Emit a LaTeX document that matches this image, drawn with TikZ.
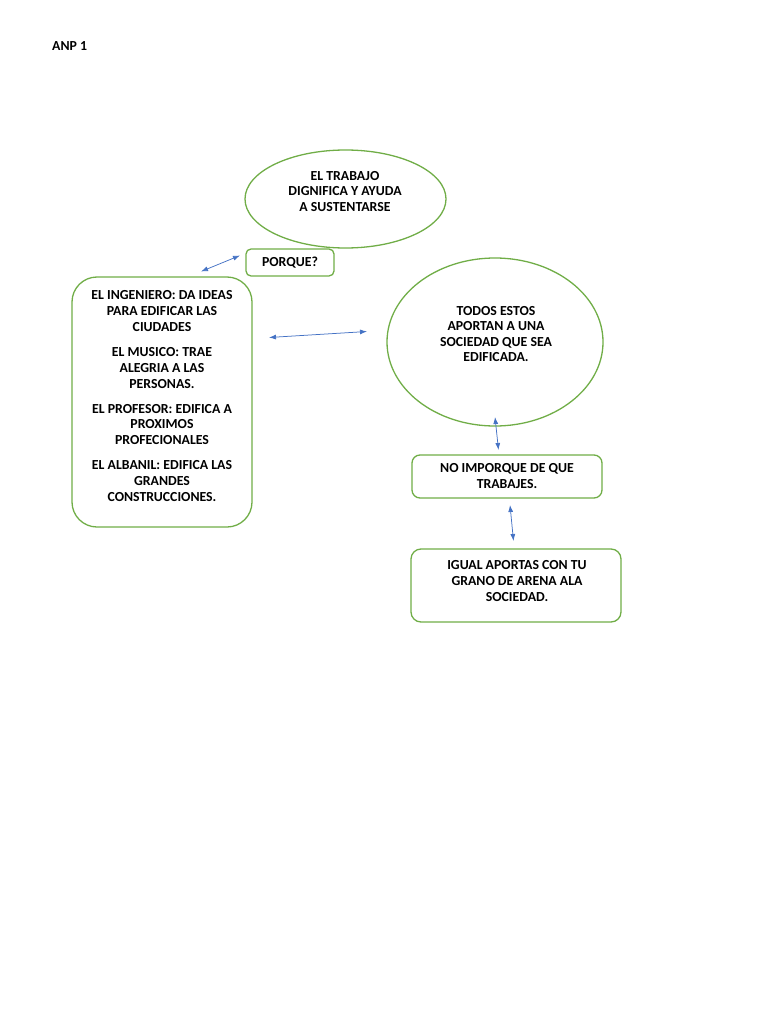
\documentclass[tikz,border=0pt]{standalone}
\usepackage{fontspec}
\setmainfont{Carlito}
\usetikzlibrary{shapes.geometric,arrows.meta}
\definecolor{grn}{RGB}{112,173,71}
\definecolor{blu}{RGB}{68,114,196}
\begin{document}
\begin{tikzpicture}[x=1pt,y=-1pt,
  txt/.style={align=center,inner sep=0pt,font=\bfseries\fontsize{13.8}{15.6}\selectfont},
  oval/.style={ellipse,draw=grn,line width=1.3pt,inner sep=0pt},
  rbox/.style={rectangle,rounded corners=#1,draw=grn,line width=1.3pt,inner sep=0pt},
  rbox/.default=8pt,
  link/.style={blu,line width=0.75pt,{Latex[length=7pt,width=5pt]}-{Latex[length=7pt,width=5pt]}}]
\useasboundingbox (0,0) rectangle (768,1024);
\node[txt,anchor=west] (anp) at (52,46) {ANP 1};
% top ellipse
\node[oval,minimum width=201pt,minimum height=98pt] (e1) at (345.5,199) {};
\node[txt] (t1) at (345,191.5) {EL TRABAJO\\DIGNIFICA Y AYUDA\\A SUSTENTARSE};
% porque
\node[rbox=5pt,minimum width=88pt,minimum height=27pt] (b1) at (290,262.5) {};
\node[txt] (t2) at (290,262.5) {PORQUE?};
% left box
\node[rbox=25pt,minimum width=180pt,minimum height=250pt] (b2) at (162,402) {};
\node[txt] (p1) at (162,311) {EL INGENIERO: DA IDEAS\\PARA EDIFICAR LAS\\CIUDADES};
\node[txt] (p2) at (162,368) {EL MUSICO: TRAE\\ALEGRIA A LAS\\PERSONAS.};
\node[txt] (p3) at (162,424.5) {EL PROFESOR: EDIFICA A\\PROXIMOS\\PROFECIONALES};
\node[txt] (p4) at (162,481) {EL ALBANIL: EDIFICA LAS\\GRANDES\\CONSTRUCCIONES.};
% right ellipse
\node[oval,minimum width=216pt,minimum height=168pt] (e2) at (495,342) {};
\node[txt] (t3) at (496,334) {TODOS ESTOS\\APORTAN A UNA\\SOCIEDAD QUE SEA\\EDIFICADA.};
% no importa box
\node[rbox,minimum width=190pt,minimum height=43pt] (b3) at (507,476.5) {};
\node[txt] (t4) at (507,476) {NO IMPORQUE DE QUE\\TRABAJES.};
% igual box
\node[rbox=10pt,minimum width=210pt,minimum height=73pt] (b4) at (516,585.5) {};
\node[txt] (t5) at (517,581) {IGUAL APORTAS CON TU\\GRANO DE ARENA ALA\\SOCIEDAD.};
% connector ends
\coordinate (a1s) at (201,271.5);
\coordinate (a1e) at (240,255.5);
\coordinate (a2s) at (269,337.5);
\coordinate (a2e) at (367,331.5);
\coordinate (a3s) at (495,417);
\coordinate (a3e) at (498.5,450);
\coordinate (a4s) at (510,505);
\coordinate (a4e) at (513.5,541);
\draw[link] (a1s) -- (a1e);
\draw[link] (a2s) -- (a2e);
\draw[link] (a3s) -- (a3e);
\draw[link] (a4s) -- (a4e);
\end{tikzpicture}
\end{document}
